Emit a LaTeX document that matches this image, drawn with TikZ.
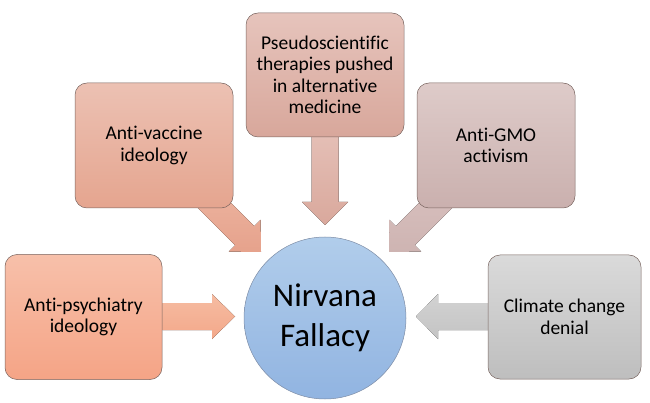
\documentclass[tikz,border=0pt]{standalone}
\usepackage{fontspec}
\setmainfont[Ligatures=NoCommon]{Carlito}
\usetikzlibrary{calc,backgrounds}
\definecolor{bordc}{RGB}{120,100,95}
\tikzset{
  boxstyle/.style={rectangle, rounded corners=12pt, draw=bordc, line width=0.5pt,
    align=center, font=\fontsize{19.5}{21.5}\selectfont, text=black,
    minimum width=158pt, minimum height=125pt, inner sep=0pt},
}
\begin{document}
\begin{tikzpicture}[x=1pt,y=-1pt]
\useasboundingbox (0,0) rectangle (650,403);
% nodes
\node[boxstyle, minimum width=157pt, top color={rgb,255:red,247;green,192;blue,170}, bottom color={rgb,255:red,245;green,164;blue,134}] (psy) at (83.5,317) {Anti-psychiatry\\ideology};
\node[boxstyle, top color={rgb,255:red,236;green,193;blue,179}, bottom color={rgb,255:red,229;green,165;blue,143}] (vac) at (154,145.5) {Anti-vaccine\\ideology};
\node[boxstyle, minimum height=124pt, top color={rgb,255:red,230;green,196;blue,188}, bottom color={rgb,255:red,216;green,167;blue,155}] (pse) at (325,75) {Pseudoscientific\\therapies pushed\\in alternative\\medicine};
\node[boxstyle, top color={rgb,255:red,222;green,203;blue,201}, bottom color={rgb,255:red,202;green,176;blue,174}] (gmo) at (496,145.5) {Anti-GMO\\activism};
\node[boxstyle, minimum width=153pt, minimum height=124pt, top color={rgb,255:red,218;green,218;blue,218}, bottom color={rgb,255:red,190;green,190;blue,190}] (cli) at (564.5,317) {Climate change\\denial};
\node[circle, minimum size=162pt, inner sep=0pt, draw={rgb,255:red,125;green,140;blue,165}, line width=0.5pt,
  top color={rgb,255:red,177;green,205;blue,235}, bottom color={rgb,255:red,145;green,180;blue,225},
  align=center, font=\fontsize{33}{39.5}\selectfont] (nir) at (325,318) {Nirvana\\Fallacy};
% tips
\coordinate (tpsy) at (235,316.5);
\coordinate (tcli) at (416,316.5);
\coordinate (tpse) at (325,225);
\coordinate (tvac) at (261,252);
\coordinate (tgmo) at (389,252);
% block arrows, behind the boxes
\begin{pgfonlayer}{background}
\fill[top color={rgb,255:red,246;green,188;blue,162}, bottom color={rgb,255:red,243;green,168;blue,138}]
  (psy.east |- {$(tpsy)+(0,-13.5)$}) -- ($(tpsy)+(-23,-13.5)$) -- ($(tpsy)+(-23,-22.5)$) -- (tpsy)
  -- ($(tpsy)+(-23,22.5)$) -- ($(tpsy)+(-23,13.5)$) -- (psy.east |- {$(tpsy)+(0,13.5)$}) -- cycle;
\fill[top color={rgb,255:red,210;green,210;blue,210}, bottom color={rgb,255:red,196;green,196;blue,196}]
  (cli.west |- {$(tcli)+(0,-13.5)$}) -- ($(tcli)+(22,-13.5)$) -- ($(tcli)+(22,-22.5)$) -- (tcli)
  -- ($(tcli)+(22,22.5)$) -- ($(tcli)+(22,13.5)$) -- (cli.west |- {$(tcli)+(0,13.5)$}) -- cycle;
\fill[top color={rgb,255:red,228;green,190;blue,181}, bottom color={rgb,255:red,217;green,168;blue,156}]
  (pse.south -| {$(tpse)+(-13.5,0)$}) -- ($(tpse)+(-13.5,-23)$) -- ($(tpse)+(-23,-23)$) -- (tpse)
  -- ($(tpse)+(23,-23)$) -- ($(tpse)+(13.5,-23)$) -- (pse.south -| {$(tpse)+(13.5,0)$}) -- cycle;
\fill[top color={rgb,255:red,236;green,180;blue,160}, bottom color={rgb,255:red,230;green,162;blue,140}]
  ($(tvac)+(-68.3,-49.2)$) -- ($(tvac)+(-25.8,-6.7)$) -- ($(tvac)+(-32.2,-0.4)$) -- (tvac)
  -- ($(tvac)+(-0.4,-32.2)$) -- ($(tvac)+(-6.7,-25.8)$) -- ($(tvac)+(-49.2,-68.2)$) -- cycle;
\fill[top color={rgb,255:red,216;green,192;blue,190}, bottom color={rgb,255:red,206;green,180;blue,178}]
  ($(tgmo)+(68.3,-49.2)$) -- ($(tgmo)+(25.8,-6.7)$) -- ($(tgmo)+(32.2,-0.4)$) -- (tgmo)
  -- ($(tgmo)+(0.4,-32.2)$) -- ($(tgmo)+(6.7,-25.8)$) -- ($(tgmo)+(49.2,-68.2)$) -- cycle;
\end{pgfonlayer}
\end{tikzpicture}
\end{document}
